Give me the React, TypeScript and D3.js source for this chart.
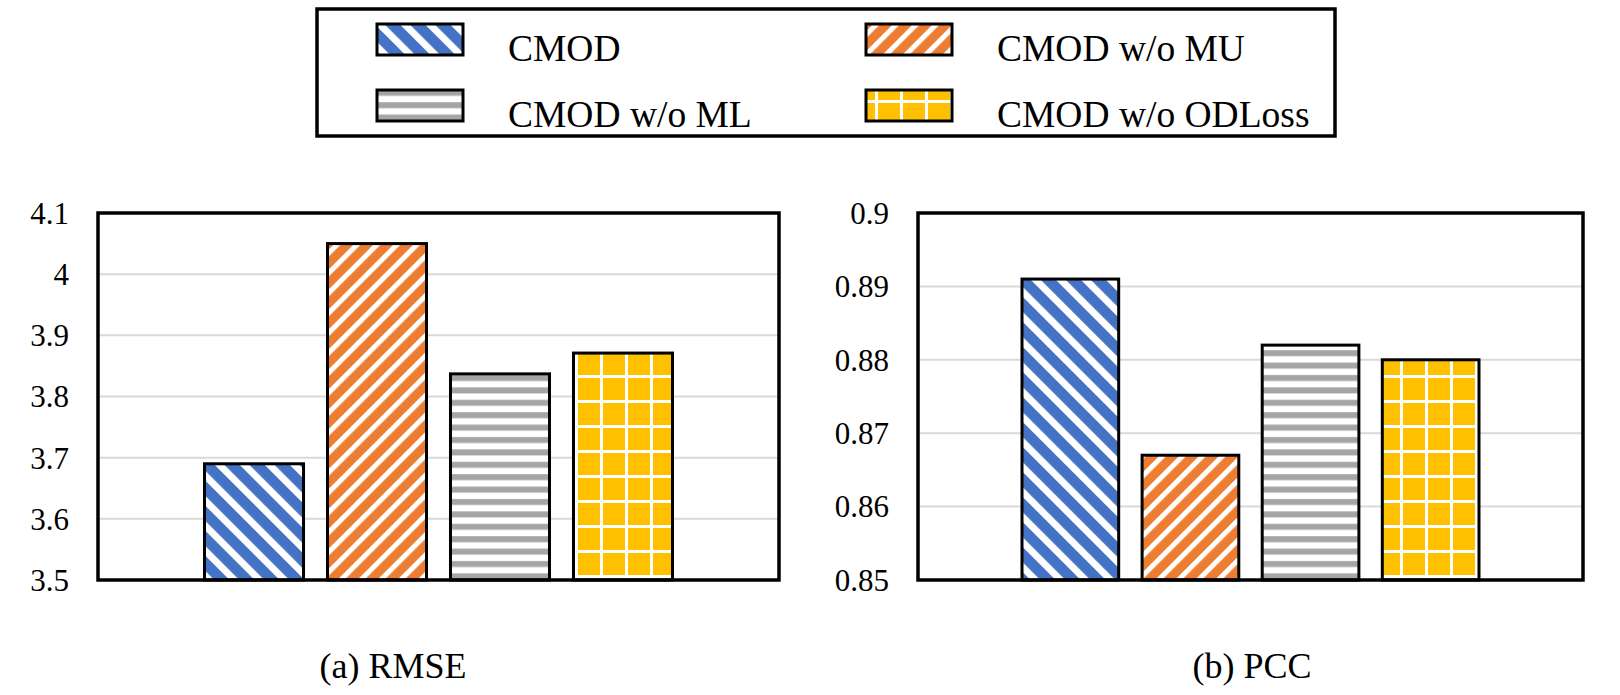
// 消融实验柱形图：RMSE / PCC
import React from 'react';
import * as d3 from 'd3';

// 数据
const seriesNames = ['CMOD', 'CMOD w/o MU', 'CMOD w/o ML', 'CMOD w/o ODLoss'];
const rmseValues = [3.69, 4.05, 3.837, 3.871];
const pccValues = [0.891, 0.867, 0.882, 0.88];
const rmseTicks = [3.5, 3.6, 3.7, 3.8, 3.9, 4.0, 4.1];
const rmseTickLabels = ['3.5', '3.6', '3.7', '3.8', '3.9', '4', '4.1'];
const pccTicks = [0.85, 0.86, 0.87, 0.88, 0.89, 0.9];
const pccTickLabels = ['0.85', '0.86', '0.87', '0.88', '0.89', '0.9'];
const captions = ['(a) RMSE', '(b) PCC'];

const width = 1620;
const height = 695;
const font = 'Liberation Serif, Tinos, DejaVu Serif, serif';
const patternIds = ['pBlue', 'pOrange', 'pGray', 'pYellow'];

const plotTop = 213;
const plotBottom = 580;

interface PanelProps {
  x0: number;
  x1: number;
  values: number[];
  ticks: number[];
  tickLabels: string[];
  caption: string;
  captionX: number;
}

const Panel: React.FC<PanelProps> = ({ x0, x1, values, ticks, tickLabels, caption, captionX }) => {
  const xScale = d3.scaleBand<string>()
    .domain(seriesNames)
    .range([x0, x1])
    .paddingInner(0.195)
    .paddingOuter(0.866);

  const yScale = d3.scaleLinear()
    .domain([ticks[0], ticks[ticks.length - 1]])
    .range([plotBottom, plotTop]);

  return (
    <g>
      {/* 网格线 */}
      {ticks.slice(1, -1).map(t => (
        <line key={t} x1={x0} x2={x1} y1={yScale(t)} y2={yScale(t)} stroke="#d9d9d9" strokeWidth={2} />
      ))}
      {/* 刻度标签 */}
      {ticks.map((t, i) => (
        <text key={'l' + t} x={x0 - 29} y={yScale(t)} dy="0.35em" textAnchor="end"
          style={{ fontFamily: font }} fontSize={31} fill="#000">{tickLabels[i]}</text>
      ))}
      {/* 柱形 */}
      {values.map((v, i) => (
        <rect key={seriesNames[i]}
          x={xScale(seriesNames[i]) || 0}
          y={yScale(v)}
          width={xScale.bandwidth()}
          height={plotBottom - yScale(v)}
          fill={`url(#${patternIds[i]})`}
          stroke="#000" strokeWidth={3} />
      ))}
      {/* 边框 */}
      <rect x={x0} y={plotTop} width={x1 - x0} height={plotBottom - plotTop}
        fill="none" stroke="#000" strokeWidth={3.5} />
      <text x={captionX} y={678} textAnchor="middle" style={{ fontFamily: font }} fontSize={36} fill="#000">{caption}</text>
    </g>
  );
};

const App: React.FC = () => {
  const legendCols = [377, 866];
  const legendRows = [24, 90];

  return (
    <svg width={width} height={height} style={{ position: 'absolute', left: 0, top: 0, background: '#fff' }}>
      <defs>
        <pattern id="pBlue" patternUnits="userSpaceOnUse" width={17.7} height={17.7} patternTransform="rotate(-45)">
          <rect width={17.7} height={17.7} fill="#4472C4" />
          <rect width={7} height={17.7} fill="#fff" />
        </pattern>
        <pattern id="pOrange" patternUnits="userSpaceOnUse" width={14.1} height={14.1} patternTransform="rotate(45)">
          <rect width={14.1} height={14.1} fill="#ED7D31" />
          <rect width={5} height={14.1} fill="#fff" />
        </pattern>
        <pattern id="pGray" patternUnits="userSpaceOnUse" width={12.4} height={12.4}>
          <rect width={12.4} height={12.4} fill="#fff" />
          <rect y={3} width={12.4} height={6} fill="#A5A5A5" />
        </pattern>
        <pattern id="pYellow" patternUnits="userSpaceOnUse" width={25} height={25}>
          <rect width={25} height={25} fill="#FFC000" />
          <rect x={0} width={3} height={25} fill="#fff" />
          <rect y={0} width={25} height={3} fill="#fff" />
        </pattern>
      </defs>

      {/* 图例 */}
      <rect x={317} y={9} width={1018} height={127} fill="#fff" stroke="#000" strokeWidth={3.5} />
      {seriesNames.map((name, i) => {
        const cx = legendCols[i % 2];
        const cy = legendRows[Math.floor(i / 2)];
        return (
          <g key={name}>
            <rect x={cx} y={cy} width={86} height={31} fill={`url(#${patternIds[i]})`} stroke="#000" strokeWidth={3} />
            <text x={cx + 131} y={cy + 37} style={{ fontFamily: font }} fontSize={37.5} fill="#000">{name}</text>
          </g>
        );
      })}

      <Panel x0={98} x1={779} values={rmseValues} ticks={rmseTicks} tickLabels={rmseTickLabels}
        caption={captions[0]} captionX={393} />
      <Panel x0={918} x1={1583} values={pccValues} ticks={pccTicks} tickLabels={pccTickLabels}
        caption={captions[1]} captionX={1252} />
    </svg>
  );
};

export default App;
